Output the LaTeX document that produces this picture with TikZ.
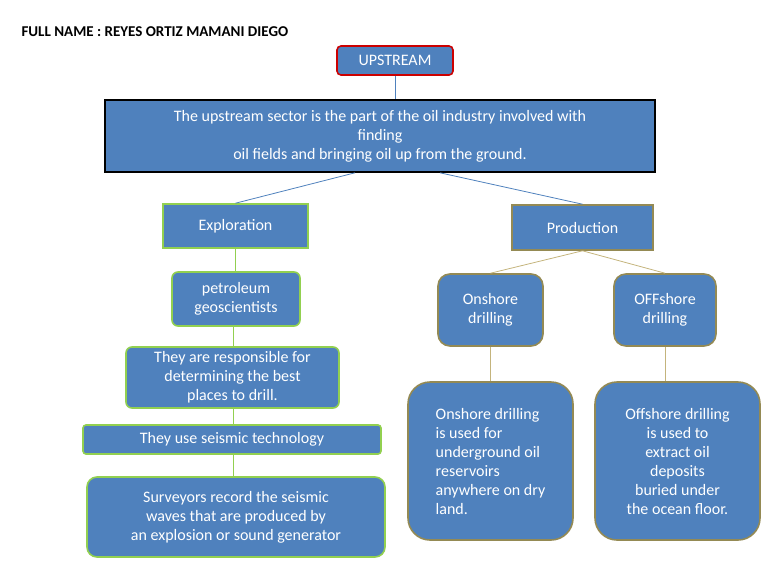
\documentclass[tikz,border=0pt]{standalone}
\usepackage{fontspec}
\setmainfont{Carlito}
\begin{document}
\begin{tikzpicture}[x=1pt,y=-1pt,
 bx/.style={draw, fill=fillb, text=white, line width=1.6pt, font=\fontsize{16}{19}\selectfont, align=center, inner sep=2pt},
 gr/.style={bx, draw=grn, rounded corners=6pt},
 tn/.style={bx, draw=tan, rounded corners=12pt},
 ln/.style={draw=lineb, line width=0.8pt}]
\definecolor{fillb}{HTML}{4F81BD}
\definecolor{grn}{HTML}{92D050}
\definecolor{tan}{HTML}{948A54}
\definecolor{lineb}{HTML}{4F81BD}
\definecolor{tanl}{HTML}{C4B47C}
\useasboundingbox (0,0) rectangle (768,576);
\node[anchor=west, font=\fontsize{15}{18}\selectfont\bfseries] (title) at (18,32) {FULL NAME : REYES ORTIZ MAMANI DIEGO};
\node[bx, draw=red!80!black, rounded corners=4pt, minimum width=116pt, minimum height=29pt] (up) at (395,60.5) {UPSTREAM};
\node[bx, draw=black, minimum width=550pt, minimum height=72pt] (big) at (380,136) {The upstream sector is the part of the oil industry involved with\\finding\\oil fields and bringing oil up from the ground.};
\node[bx, draw=grn, minimum width=145pt, minimum height=44pt] (exp) at (235.5,226) {Exploration};
\node[bx, draw=tan, minimum width=141pt, minimum height=45pt] (prod) at (582.5,227.5) {Production};
\node[tn, draw=tan, minimum width=105pt, minimum height=72pt] (on) at (490.5,310) {Onshore\\drilling};
\node[tn, draw=tan, minimum width=102pt, minimum height=72pt] (off) at (665,310) {OFFshore\\drilling};
\node[tn, draw=tan, rounded corners=22pt, minimum width=165pt, minimum height=158pt, align=left] (ond) at (490.5,461) {Onshore drilling\\is used for\\underground oil\\reservoirs\\anywhere on dry\\land.};
\node[tn, draw=tan, rounded corners=22pt, minimum width=165pt, minimum height=158pt] (offd) at (677.5,461) {Offshore drilling\\is used to\\extract oil\\deposits\\buried under\\the ocean floor.};
\node[gr, minimum width=128pt, minimum height=54pt] (pet) at (236,299) {petroleum\\geoscientists};
\node[gr, minimum width=213pt, minimum height=61pt] (resp) at (232.5,377.5) {They are responsible for\\determining the best\\places to drill.};
\node[gr, rounded corners=3pt, minimum width=298pt, minimum height=29pt] (seis) at (232,439.5) {They use seismic technology};
\node[gr, rounded corners=10pt, minimum width=298pt, minimum height=80pt] (surv) at (236,517) {Surveyors record the seismic\\waves that are produced by\\an explosion or sound generator};
\draw[ln] (up.south) -- (big.north -| up.south);
\draw[ln] (big.south -| 355,0) -- (exp.north);
\draw[ln] (big.south -| 440,0) -- (prod.north);
\draw[draw=tanl, line width=0.8pt] (prod.south) -- (on.north);
\draw[draw=tanl, line width=0.8pt] (prod.south) -- (off.north);
\draw[draw=tanl, line width=0.8pt] (on.south) -- (on.south |- ond.north);
\draw[draw=tanl, line width=0.8pt] (off.south) -- (off.south |- offd.north);
\draw[draw=grn, line width=0.8pt] (exp.south) -- (exp.south |- pet.north);
\draw[draw=grn, line width=0.8pt] (pet.south -| 233,0) -- (resp.north -| 233,0);
\draw[draw=grn, line width=0.8pt] (resp.south -| 233,0) -- (seis.north -| 233,0);
\draw[draw=grn, line width=0.8pt] (seis.south -| 233,0) -- (surv.north -| 233,0);
\end{tikzpicture}
\end{document}
